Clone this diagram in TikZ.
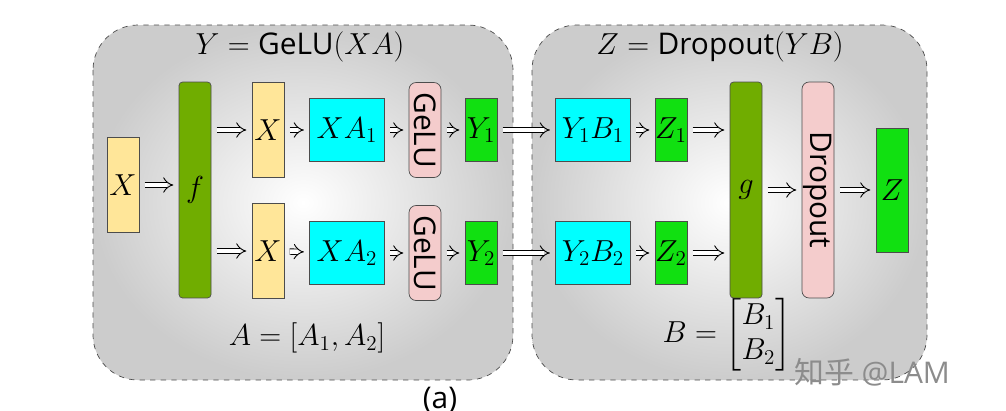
\documentclass[tikz,border=0pt]{standalone}
\usepackage{amsmath}
\usepackage{fontspec}
\setmainfont{Open Sans}
\newfontfamily\cjk{Noto Sans CJK SC}
\usetikzlibrary{arrows.meta}
\definecolor{inyel}{HTML}{FFE699}
\definecolor{fgreen}{HTML}{70AD00}
\definecolor{ycyan}{HTML}{00FFFF}
\definecolor{gpink}{HTML}{F4CCCC}
\definecolor{ygreen}{HTML}{11E011}
\begin{document}
\begin{tikzpicture}[x={(0.02cm,0)}, y={(0,-0.02cm)}, font=\fontsize{17}{20}\selectfont]
        \tikzset{
          panel/.style={draw=black!70, dashed, rounded corners=0.9cm, inner color=white, outer color=black!20},
          blk/.style={rectangle, draw=black!70, text centered, inner sep=0pt},
          tall/.style={blk, minimum width=0.64cm, minimum height=1.9cm},
          wide/.style={blk, minimum width=1.5cm, minimum height=1.26cm},
          small/.style={blk, minimum width=0.64cm, minimum height=1.26cm},
          arrow/.style={double, double distance=2.6pt, line width=0.5pt, -{Implies}, shorten >=3pt, shorten <=3pt}
        }
        \useasboundingbox (0,0) rectangle (1006,410);
		\path[panel] (93,25) rectangle (513,380);
		\path[panel] (532,25) rectangle (927,380);
		\node at (300,47) {$Y=\text{GeLU}(XA)$};
		\node at (720,47) {$Z=\text{Dropout}(YB)$};
		\node at (307,338) {$A=[A_1,A_2]$};
		\node at (727,335) {$B=\begin{bmatrix}B_1\\B_2\end{bmatrix}$};
		\node (x) [tall, fill=inyel] at (123,185) {$X$};
		\node (f) [blk, fill=fgreen, rounded corners=2pt, minimum width=0.64cm, minimum height=4.32cm] at (195,190) {$f$};
		\node (x1) [tall, fill=inyel] at (268,130) {$X$};
		\node (x2) [tall, fill=inyel] at (268,251) {$X$};
		\node (xa1) [wide, fill=ycyan] at (347,130) {$XA_1$};
		\node (xa2) [wide, fill=ycyan] at (347,253) {$XA_2$};
		\node (ge1) [tall, fill=gpink, rounded corners=4pt] at (425,130) {\rotatebox{-90}{GeLU}};
		\node (ge2) [tall, fill=gpink, rounded corners=4pt] at (425,253) {\rotatebox{-90}{GeLU}};
		\node (y1) [small, fill=ygreen] at (481,130) {$Y_1$};
		\node (y2) [small, fill=ygreen] at (481,253) {$Y_2$};
		\node (yb1) [wide, fill=ycyan] at (593,130) {$Y_1B_1$};
		\node (yb2) [wide, fill=ycyan] at (593,253) {$Y_2B_2$};
		\node (z1) [small, fill=ygreen] at (671,130) {$Z_1$};
		\node (z2) [small, fill=ygreen] at (671,253) {$Z_2$};
		\node (g) [blk, fill=fgreen, rounded corners=2pt, minimum width=0.64cm, minimum height=4.32cm] at (746,190) {$g$};
		\node (dr) [blk, fill=gpink, rounded corners=4pt, minimum width=0.64cm, minimum height=4.32cm] at (818,190) {\rotatebox{-90}{Dropout}};
		\node (z) [blk, fill=ygreen, minimum width=0.64cm, minimum height=2.48cm] at (892,190) {$Z$};
		\draw[arrow] (x) to (x -| f.west);
		\draw[arrow] (f.east |- x1) to (x1);
		\draw[arrow] (f.east |- x2) to (x2);
		\draw[arrow] (x1) to (xa1);
		\draw[arrow] (x2) to (xa2);
		\draw[arrow] (xa1) to (ge1);
		\draw[arrow] (xa2) to (ge2);
		\draw[arrow] (ge1) to (y1);
		\draw[arrow] (ge2) to (y2);
		\draw[arrow] (y1) to (yb1);
		\draw[arrow] (y2) to (yb2);
		\draw[arrow] (yb1) to (z1);
		\draw[arrow] (yb2) to (z2);
		\draw[arrow] (z1) to (z1 -| g.west);
		\draw[arrow] (z2) to (z2 -| g.west);
		\draw[arrow] (g) to (dr);
		\draw[arrow] (dr) to (z);
		\node (wm) [text=black!45] at (872,372) {{\cjk 知乎} @LAM};
		\node (cap) at (440,400) {(a)};
\end{tikzpicture}
\end{document}
